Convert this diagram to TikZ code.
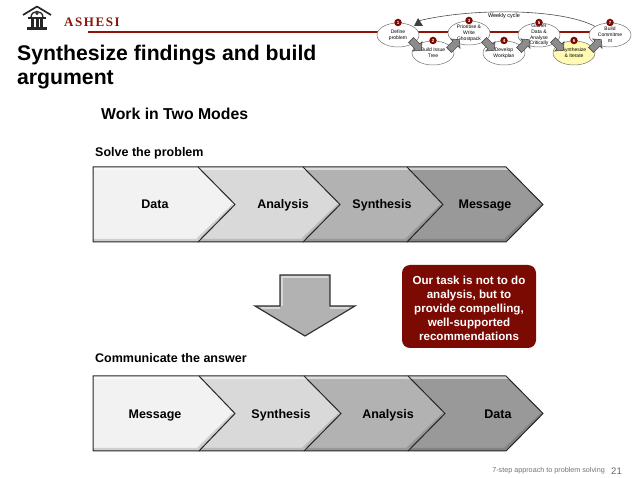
\documentclass[tikz,border=0pt]{standalone}
\usepackage{fontspec}
\setmainfont{Liberation Sans}
\newfontfamily\logofont{Liberation Serif}
\usetikzlibrary{shapes.geometric}

\definecolor{ashesired}{HTML}{7B0A02}
\definecolor{rulered}{HTML}{8E1408}

\tikzset{
  chevron/.style={draw=black!85, line width=1pt, line join=miter},
  steplabel/.style={anchor=base, inner sep=0pt, font=\fontsize{12.5}{14}\selectfont\bfseries},
  heading/.style={anchor=base west, inner sep=0pt, font=\fontsize{12.5}{14}\selectfont\bfseries},
  bubbletext/.style={inner sep=0pt, align=center, font=\fontsize{5}{5.8}\selectfont},
  bubble/.style={draw=black!55, line width=.5pt, ellipse, fill=white, minimum width=42pt, minimum height=24pt, inner sep=0pt, label={[bubbletext]center:#1}},
  badge/.style={circle, fill=ashesired, text=white, inner sep=0pt, minimum size=7.5pt, font=\fontsize{4.5}{5}\selectfont\bfseries},
  flowarrow/.style={draw=black!70, fill=black!45, line width=.6pt, line join=miter},
}

\newcommand{\chevronrow}[2]{%
  % #1 top, #2 list of left/shoulder/tip/colour
  \foreach \xa/\xb/\xc/\shade in {#2} {
    \fill[\shade] (\xa,#1) -- (\xb,#1) -- (\xc,#1+37.5) -- (\xb,#1+75) -- (\xa,#1+75) -- cycle;
    \fill[white, opacity=.55] (\xa,#1) -- (\xb,#1) -- (\xb+3,#1+3) -- (\xa,#1+3) -- cycle;
    \fill[black, opacity=.14] (\xa,#1+75) -- (\xb,#1+75) -- (\xc,#1+37.5) -- (\xc-3,#1+37.5) -- (\xb-2,#1+72) -- (\xa,#1+72) -- cycle;
    \draw[chevron] (\xa,#1) -- (\xb,#1) -- (\xc,#1+37.5) -- (\xb,#1+75) -- (\xa,#1+75) -- cycle;
  }
}

\begin{document}
\begin{tikzpicture}[x=1pt, y=-1pt]
\useasboundingbox (0,0) rectangle (638,478);
\fill[white] (0,0) rectangle (638,478);

% logo
\draw[black!85, line width=1.7pt, line join=round] (23,15) -- (37,6.5) -- (51,15);
\draw[black!85, line width=1.3pt] (31,17.5) .. controls (31,9.5) and (43,9.5) .. (43,17.5);
\fill[black!85] (37,13.5) circle (1.6);
\fill[black!85] (28,17.5) rectangle (46,19.5);
\foreach \xcol in {31,35.5,40} {
  \fill[black!85] (\xcol,19.5) rectangle (\xcol+3,27.5);
}
\fill[black!85] (27,27.5) rectangle (47,30.5);
\node[anchor=west, inner sep=0pt, text=rulered] (brand) at (64,22)
  {\logofont\fontsize{13}{14}\selectfont\bfseries\addfontfeature{LetterSpace=12}ASHESI};
\draw[rulered, line width=1.2pt] (88,32) -- (612,32);

% title
\node[anchor=north west, inner sep=0pt, align=left, font=\fontsize{21.2}{23.5}\selectfont\bfseries] (title) at (17,45)
  {Synthesize findings and build\\argument};

% process map
\node[bubble={Define\\problem}] (define) at (398,35) {};
\node[bubble={Build Issue\\Tree}] (tree) at (433,53) {};
\node[bubble={Prioritise \&\\Write\\Ghostpack}] (ghost) at (469,33) {};
\node[bubble={Develop\\Workplan}] (plan) at (504,53) {};
\node[bubble={Gather\\Data \&\\Analyse\\Critically}] (gather) at (539,35) {};
\node[bubble={Synthesize\\\& Iterate}, fill=yellow!30] (synth) at (574,53) {};
\node[bubble={Build\\Commitme\\nt}] (commit) at (610,35) {};
\foreach \nodename/\num in {define/1, tree/2, ghost/3, plan/4, gather/5, synth/6, commit/7} {
  \node[badge] (badge\num) at ([yshift=12.5pt]\nodename.center) {\num};
}
\foreach \xarr/\yarr/\rot in {416/45/-45, 454/45/45, 489/45/-45, 524/45/45, 558/45/-45, 596/45/45} {
  \draw[flowarrow, shift={(\xarr,\yarr)}, rotate=\rot] (-7,-3.5) -- (2,-3.5) -- (2,-6.5) -- (7.5,0) -- (2,6.5) -- (2,3.5) -- (-7,3.5) -- cycle;
}
\node[inner sep=0pt, font=\fontsize{5.5}{6}\selectfont] (cycle) at (504,16) {Weekly cycle};
\coordinate (cyclehead) at (418,21);
\draw[black!70, line width=.6pt] (commit.north west) .. controls (560,8) and (470,8) .. (cyclehead);
\fill[black!75] (414,26) -- (423,26) -- (418,18) -- cycle;

% top row
\node[heading] (solve) at (95,156.5) {Solve the problem};
\chevronrow{167}{407/506/543/black!40, 303/407/443/black!30, 198/303/340/black!15, 93/198/235/black!5}
\node[steplabel] (data1) at (155,208.5) {Data};
\node[steplabel] (analysis1) at (283,208.5) {Analysis};
\node[steplabel] (synthesis1) at (382,208.5) {Synthesis};
\node[steplabel] (message1) at (485,208.5) {Message};

% big arrow and callout
\draw[black!80, line width=1.2pt, fill=black!30, line join=miter] (280,275) -- (330,275) -- (330,306) -- (355,306) -- (305,336) -- (255,306) -- (280,306) -- cycle;
\draw[white, opacity=.5, line width=1.5pt] (282,306) -- (282,277) -- (328,277);
\draw[white, opacity=.5, line width=1.5pt] (261,308) -- (280,308);
\draw[white, opacity=.5, line width=1.5pt] (330,308) -- (349,308);
\node[rounded corners=8pt, fill=ashesired, minimum width=134pt, minimum height=83pt, inner sep=0pt] (callout) at (469,306.5) {};
\node[text=white, inner sep=0pt, align=center, font=\fontsize{11.6}{14.1}\selectfont\bfseries] (calltext) at (469,308.5)
  {Our task is not to do\\analysis, but to\\provide compelling,\\well-supported\\recommendations};

% bottom row
\node[heading] (answer) at (95,362.5) {Communicate the answer};
\chevronrow{376}{408/506/543/black!40, 304/408/445/black!30, 199/304/341/black!15, 93/199/235/black!5}
\node[steplabel] (message2) at (155,418.5) {Message};
\node[steplabel] (synthesis2) at (281,418.5) {Synthesis};
\node[steplabel] (analysis2) at (388,418.5) {Analysis};
\node[steplabel] (data2) at (498,418.5) {Data};

% subtitle and footer
\node[anchor=west, inner sep=0pt, font=\fontsize{15.8}{18}\selectfont\bfseries] (modes) at (101,114) {Work in Two Modes};
\node[anchor=east, inner sep=0pt, text=black!55, font=\fontsize{7.2}{9}\selectfont] (footer) at (605,471) {7-step approach to problem solving};
\node[anchor=east, inner sep=0pt, text=black!60, font=\fontsize{9.5}{11}\selectfont] (page) at (622,471) {21};
\end{tikzpicture}
\end{document}
